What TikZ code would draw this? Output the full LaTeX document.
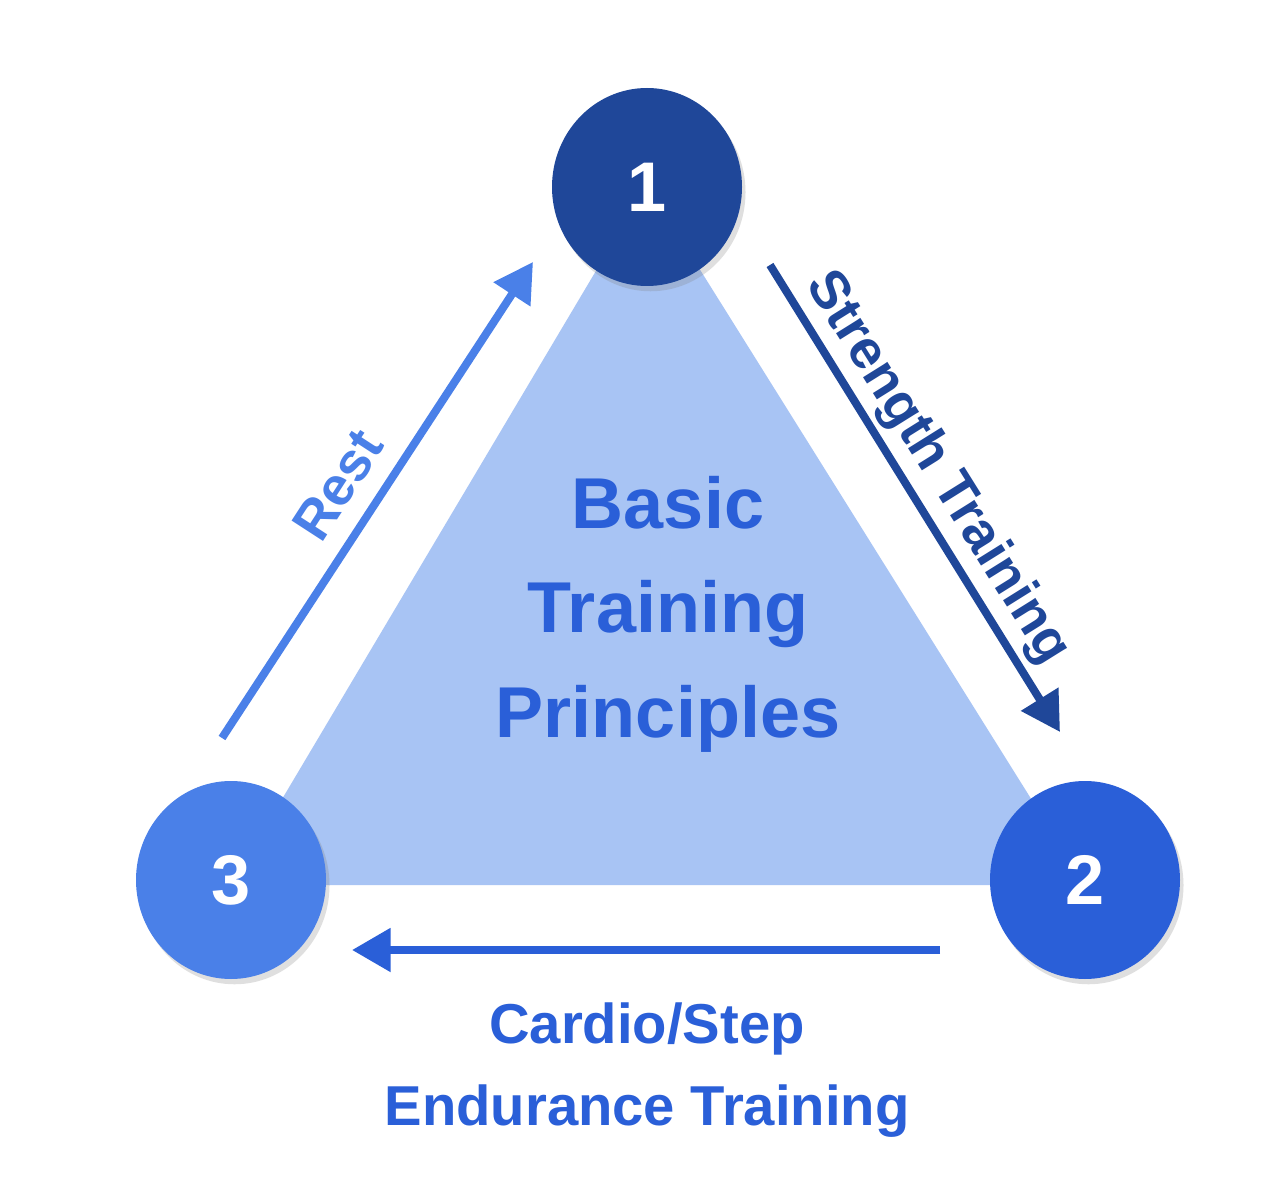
\documentclass[tikz,border=0pt]{standalone}
\usepackage{fontspec}
\setmainfont{Liberation Sans}
\usetikzlibrary{arrows.meta,shadows,shapes.geometric}
\definecolor{cone}{HTML}{1F4799}
\definecolor{ctwo}{HTML}{2A5FD8}
\definecolor{cthree}{HTML}{4A80E8}
\definecolor{tri}{HTML}{A8C4F4}
\tikzset{
  num/.style={ellipse,minimum width=190*0.02cm,minimum height=198*0.02cm,inner sep=0,text=white,font=\fontsize{40}{40}\selectfont\bfseries,drop shadow={opacity=0.25,shadow xshift=2pt,shadow yshift=-3pt}},
  arr/.style={line width=8*0.567pt,-{Triangle[length=22pt,width=24pt]}},
  lab/.style={font=\fontsize{31}{31}\selectfont\bfseries,inner sep=0}
}
\begin{document}
\begin{tikzpicture}[x=0.02cm,y=-0.02cm]
\useasboundingbox[fill=white] (0,0) rectangle (1282,1202);
\coordinate (t1) at (647,185);
\coordinate (t2) at (1085,885);
\coordinate (t3) at (231,885);
\fill[tri] (t1) -- (t2) -- (t3) -- cycle;
\node[num,fill=cone] (n1) at (647,187) {1};
\node[num,fill=ctwo] (n2) at (1085,880) {2};
\node[num,fill=cthree] (n3) at (231,880) {3};
\coordinate (ra) at (222,738); \coordinate (rb) at (533,262);
\coordinate (sa) at (770,265); \coordinate (sb) at (1060,732);
\coordinate (ca) at (940,950); \coordinate (cb) at (352,950);
\draw[arr,cthree] (ra) -- (rb);
\draw[arr,cone] (sa) -- (sb);
\draw[arr,ctwo] (ca) -- (cb);
\node[lab,text=cthree,rotate=57] (rest) at (338,485) {Rest};
\node[lab,text=cone,rotate=-58] (str) at (937,468) {Strength Training};
\node[text=ctwo,align=center,font=\fontsize{41}{59.5}\selectfont\bfseries] (mid) at (668,614) {Basic\\Training\\Principles};
\node[text=ctwo,align=center,font=\fontsize{32}{47}\selectfont\bfseries] (bot) at (647,1070) {Cardio/Step\\Endurance Training};
\end{tikzpicture}
\end{document}
